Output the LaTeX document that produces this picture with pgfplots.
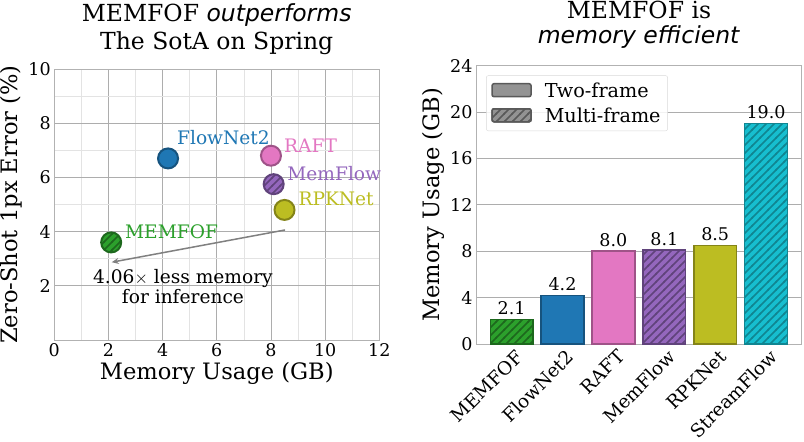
\documentclass[border=0pt]{standalone}
\usepackage{pgfplots}
\pgfplotsset{compat=1.18}
\usepackage{fontspec}
\setmainfont{DejaVu Serif}
\setsansfont{DejaVu Sans}
\usetikzlibrary{patterns,arrows.meta}

\definecolor{tabgreen}{HTML}{2CA02C}
\definecolor{tabblue}{HTML}{1F77B4}
\definecolor{tabpink}{HTML}{E377C2}
\definecolor{tabpurple}{HTML}{9467BD}
\definecolor{tabolive}{HTML}{BCBD22}
\definecolor{tabcyan}{HTML}{17BECF}
\colorlet{egreen}{tabgreen!65!black}
\colorlet{eblue}{tabblue!70!black}
\colorlet{epink}{tabpink!70!black}
\colorlet{epurple}{tabpurple!65!black}
\colorlet{eolive}{tabolive!70!black}
\colorlet{ecyan}{tabcyan!70!black}
\colorlet{legfill}{black!50}
\colorlet{legedge}{black!65}

\pgfdeclarepatternformonly{hatchlines}{\pgfqpoint{-1pt}{-1pt}}{\pgfqpoint{9pt}{9pt}}{\pgfqpoint{8pt}{8pt}}{%
  \pgfsetlinewidth{1.5pt}%
  \pgfpathmoveto{\pgfqpoint{-1pt}{-1pt}}%
  \pgfpathlineto{\pgfqpoint{9pt}{9pt}}%
  \pgfusepath{stroke}}

\newcommand\defhatchmark[2]{%
  \pgfdeclareplotmark{#1}{%
    \pgfpathcircle{\pgfpointorigin}{\pgfplotmarksize}%
    \pgfusepathqfill
    \pgfsetfillpattern{hatchlines}{#2}%
    \pgfpathcircle{\pgfpointorigin}{\pgfplotmarksize}%
    \pgfusepathqfill
    \pgfpathcircle{\pgfpointorigin}{\pgfplotmarksize}%
    \pgfusepathqstroke}}
\defhatchmark{hcgreen}{egreen}
\defhatchmark{hcpurple}{epurple}

\newcommand\tickfont{\fontsize{17.5}{20}\selectfont}
\newcommand\annfont{\fontsize{18.6}{22}\selectfont}
\newcommand\labfont{\fontsize{22.6}{26}\selectfont}
\newcommand\titfont{\fontsize{23.5}{28}\selectfont}

\begin{document}
\begin{tikzpicture}
\useasboundingbox (0,0) rectangle (804pt,442pt);
% titles
\node[anchor=base, inner sep=0pt, font=\titfont] at (216.7pt,420.3pt) {MEMFOF \textsf{\itshape outperforms}};
\node[anchor=base, inner sep=0pt, font=\titfont] at (216.7pt,392pt) {The SotA on Spring};
\node[anchor=base, inner sep=0pt, font=\titfont] at (639pt,423.7pt) {MEMFOF is};
\node[anchor=base, inner sep=0pt, font=\titfont] at (639pt,398.7pt) {\textsf{\itshape memory efficient}};
% ---------------- left scatter ----------------
\begin{axis}[
  at={(54.3pt,102pt)}, anchor=south west,
  scale only axis, width=325pt, height=271pt,
  xmin=0, xmax=12, ymin=0, ymax=10,
  xtick={0,2,...,12}, ytick={2,4,...,10},
  minor x tick num=1, minor y tick num=1,
  grid=both,
  major grid style={color=black!32, line width=0.8pt},
  minor grid style={color=black!11, line width=0.7pt},
  axis line style={color=black!30, line width=0.8pt},
  major tick length=0pt, minor tick length=0pt,
  /pgf/number format/assume math mode=true,
  ticklabel style={font=\tickfont},
  xlabel={Memory Usage (GB)}, ylabel={Zero-Shot 1px Error (\%)},
  label style={font=\labfont},
  xlabel style={yshift=1pt},
  ylabel style={yshift=-1pt},
  clip=false,
]
\addplot[only marks, mark=*, mark size=10pt, mark options={fill=tabblue, draw=eblue, line width=2pt}] coordinates {(4.2,6.7)};
\addplot[only marks, mark=*, mark size=10pt, mark options={fill=tabpink, draw=epink, line width=2pt}] coordinates {(8.0,6.8)};
\addplot[only marks, mark=hcpurple, mark size=10pt, mark options={fill=tabpurple, draw=epurple, line width=2pt}] coordinates {(8.1,5.75)};
\addplot[only marks, mark=*, mark size=10pt, mark options={fill=tabolive, draw=eolive, line width=2pt}] coordinates {(8.5,4.8)};
\addplot[only marks, mark=hcgreen, mark size=10pt, mark options={fill=tabgreen, draw=egreen, line width=2pt}] coordinates {(2.1,3.6)};
\draw[black!50, line width=1.5pt, -{Stealth[length=7pt,width=6pt]}] (axis cs:8.52,4.06) -- (axis cs:2.12,2.87);
\node[anchor=base west, inner sep=0pt, text=tabblue, font=\annfont] at (axis cs:4.53,7.2) {FlowNet2};
\node[anchor=base west, inner sep=0pt, text=tabpink, font=\annfont] at (axis cs:8.48,6.91) {RAFT};
\node[anchor=base west, inner sep=0pt, text=tabpurple, font=\annfont] at (axis cs:8.6,5.9) {MemFlow};
\node[anchor=base west, inner sep=0pt, text=tabolive, font=\annfont] at (axis cs:9.01,4.98) {RPKNet};
\node[anchor=base west, inner sep=0pt, text=tabgreen, font=\annfont] at (axis cs:2.61,3.75) {MEMFOF};
\node[anchor=base, inner sep=0pt, font=\annfont] at (axis cs:4.75,2.09) {4.06$\times$ less memory};
\node[anchor=base, inner sep=0pt, font=\annfont] at (axis cs:4.75,1.33) {for inference};
\end{axis}
% ---------------- right bars ----------------
\begin{axis}[
  at={(476pt,98pt)}, anchor=south west,
  scale only axis, width=325.7pt, height=278.3pt,
  xmin=-0.7, xmax=5.7, ymin=0, ymax=24,
  ytick={0,4,...,24},
  xtick={0,1,2,3,4,5},
  xticklabels={MEMFOF,FlowNet2,RAFT,MemFlow,RPKNet,StreamFlow},
  ymajorgrids,
  major grid style={color=black!32, line width=0.8pt},
  axis line style={color=black!30, line width=0.8pt},
  major tick length=0pt,
  /pgf/number format/assume math mode=true,
  yticklabel style={font=\tickfont},
  xticklabel style={font=\fontsize{18.5}{22}\selectfont, rotate=45, anchor=north east, inner sep=1pt, yshift=-4pt},
  ylabel={Memory Usage (GB)},
  label style={font=\labfont},
  ylabel style={yshift=-1pt},
  clip=false,
  nodes near coords={\pgfmathprintnumber[fixed,fixed zerofill,precision=1,assume math mode=true]{\pgfplotspointmeta}},
  every node near coord/.append style={font=\fontsize{17.5}{20}\selectfont, inner sep=2pt, yshift=2pt, text=black},
  legend style={at={(0.031,0.965)}, anchor=north west, draw=black!15, rounded corners=2pt, fill=white, fill opacity=0.85, text opacity=1, font=\fontsize{19.2}{22}\selectfont, row sep=5pt, inner xsep=5pt, inner ysep=5pt},
  legend cell align=left,
]
\addlegendimage{legend image code/.code={\draw[fill=legfill, draw=legedge, line width=1.5pt] (0pt,-6pt) rectangle (39pt,7pt);}, legend image post style={}}
\addlegendentry{\hspace{11pt}Two-frame}
\addlegendimage{legend image code/.code={\draw[fill=legfill, draw=legedge, line width=1.5pt, postaction={pattern=hatchlines, pattern color=legedge}] (0pt,-6pt) rectangle (39pt,7pt);}}
\addlegendentry{\hspace{11pt}Multi-frame}
\addplot[ybar, bar width=0.84, bar shift=0pt, fill=tabgreen, draw=egreen, line width=1.5pt, postaction={pattern=hatchlines, pattern color=egreen}, forget plot] coordinates {(0,2.1)};
\addplot[ybar, bar width=0.84, bar shift=0pt, fill=tabblue, draw=eblue, line width=1.5pt, forget plot] coordinates {(1,4.2)};
\addplot[ybar, bar width=0.84, bar shift=0pt, fill=tabpink, draw=epink, line width=1.5pt, forget plot] coordinates {(2,8.0)};
\addplot[ybar, bar width=0.84, bar shift=0pt, fill=tabpurple, draw=epurple, line width=1.5pt, postaction={pattern=hatchlines, pattern color=epurple}, forget plot] coordinates {(3,8.1)};
\addplot[ybar, bar width=0.84, bar shift=0pt, fill=tabolive, draw=eolive, line width=1.5pt, forget plot] coordinates {(4,8.5)};
\addplot[ybar, bar width=0.84, bar shift=0pt, fill=tabcyan, draw=ecyan, line width=1.5pt, postaction={pattern=hatchlines, pattern color=ecyan}, forget plot] coordinates {(5,19.0)};
\end{axis}
\end{tikzpicture}
\end{document}
